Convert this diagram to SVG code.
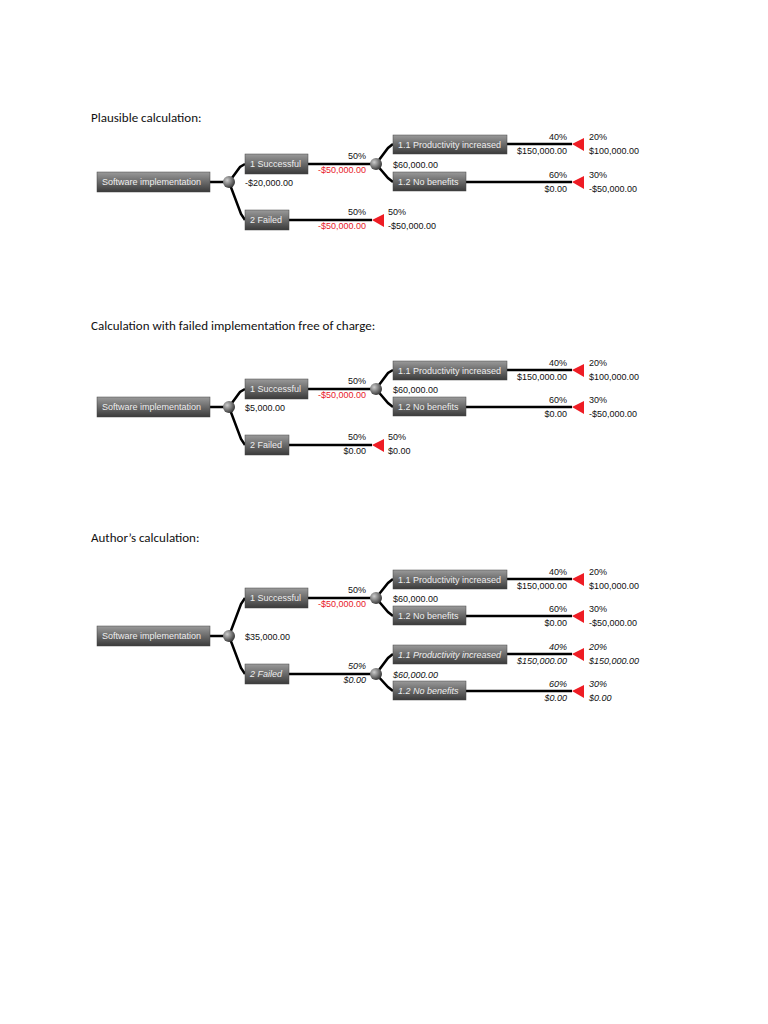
<svg xmlns="http://www.w3.org/2000/svg" width="768" height="1024" viewBox="0 0 768 1024">
<style>
.t{font-family:"Liberation Sans",Arial,sans-serif;font-size:9px;fill:#111}
.r{fill:#e8202a}
.e{text-anchor:end}
.i{font-style:italic}
.h{font-family:Calibri,"Carlito","Liberation Sans",sans-serif;font-size:13px;fill:#111}
.bx{fill:url(#g);stroke:#444;stroke-width:0.5}
.bt{font-family:"Liberation Sans",Arial,sans-serif;font-size:9px;fill:#eee}
.ln{fill:none;stroke:#000;stroke-width:2.5}
.tri{fill:#ee1c24}
.cn{fill:url(#rg)}
</style>
<defs>
<linearGradient id="g" x1="0" y1="0" x2="0" y2="1"><stop offset="0" stop-color="#9a9a9a"/><stop offset="0.5" stop-color="#6a6a6a"/><stop offset="1" stop-color="#3a3a3a"/></linearGradient>
<radialGradient id="rg" cx="0.35" cy="0.35" r="0.7"><stop offset="0" stop-color="#ccc"/><stop offset="1" stop-color="#333"/></radialGradient>
</defs>
<rect width="768" height="1024" fill="#fff"/>
<text class="h" x="91" y="122">Plausible calculation:</text>
<text class="h" x="91" y="330">Calculation with failed implementation free of charge:</text>
<text class="h" x="91" y="542">Author’s calculation:</text>

<g id="connectors">
<!-- tree 1 -->
<path class="ln" d="M210 182H229M229 182L240 167L245 164M229 182L241 214L245 220M308 164H376M376 164L388 148L393 144M376 164L388 178L393 182M507 144H572M466 182H572M289 220H372"/>
<!-- tree 2 -->
<path class="ln" d="M210 407H229M229 407L240 392L245 389M229 407L241 439L245 445M308 389H376M376 389L388 373L393 370M376 389L388 403L393 407M507 370H572M466 407H572M289 445H372"/>
<!-- tree 3 -->
<path class="ln" d="M210 636H229M229 636L241 604L245 598M229 636L241 668L245 674M308 598H376M376 598L388 583L393 579M376 598L388 612L393 616M507 579H572M466 616H572M289 674H376M376 674L388 658L393 654M376 674L388 687L393 691M507 654H572M466 691H572"/>
<g>
<polygon class="tri" points="584,138 572,144 584,151"/><polygon class="tri" points="584,176 572,182 584,189"/><polygon class="tri" points="384,214 372,220 384,227"/>
<polygon class="tri" points="584,364 572,370 584,377"/><polygon class="tri" points="584,401 572,407 584,414"/><polygon class="tri" points="384,439 372,445 384,452"/>
<polygon class="tri" points="584,573 572,579 584,586"/><polygon class="tri" points="584,610 572,616 584,623"/><polygon class="tri" points="584,648 572,654 584,661"/><polygon class="tri" points="584,685 572,691 584,698"/>
</g>
</g>

<g id="tree1">
<g id="t1-root"><rect class="bx" x="97" y="172" width="113" height="20"/><text class="bt" x="102" y="185">Software implementation</text><circle class="cn" cx="229" cy="182" r="6"/><text class="t" x="245" y="186">-$20,000.00</text></g>
<g id="t1-succ"><rect class="bx" x="245" y="154" width="63" height="20"/><text class="bt" x="250" y="167">1  Successful</text><text class="t e" x="366" y="159">50%</text><text class="t r e" x="366" y="173">-$50,000.00</text><circle class="cn" cx="376" cy="164" r="6"/><text class="t" x="393" y="168">$60,000.00</text></g>
<g id="t1-p"><rect class="bx" x="393" y="135" width="114" height="19"/><text class="bt" x="398" y="148">1.1  Productivity increased</text><text class="t e" x="567" y="140">40%</text><text class="t e" x="567" y="154">$150,000.00</text><text class="t" x="589" y="140">20%</text><text class="t" x="589" y="154">$100,000.00</text></g>
<g id="t1-n"><rect class="bx" x="393" y="172" width="73" height="19"/><text class="bt" x="398" y="185">1.2  No benefits</text><text class="t e" x="567" y="178">60%</text><text class="t e" x="567" y="192">$0.00</text><text class="t" x="589" y="178">30%</text><text class="t" x="589" y="192">-$50,000.00</text></g>
<g id="t1-fail"><rect class="bx" x="245" y="210" width="44" height="20"/><text class="bt" x="250" y="223">2  Failed</text><text class="t e" x="366" y="215">50%</text><text class="t r e" x="366" y="229">-$50,000.00</text><text class="t" x="388" y="215">50%</text><text class="t" x="388" y="229">-$50,000.00</text></g>
</g>

<g id="tree2">
<g id="t2-root"><rect class="bx" x="97" y="397" width="113" height="20"/><text class="bt" x="102" y="410">Software implementation</text><circle class="cn" cx="229" cy="407" r="6"/><text class="t" x="245" y="411">$5,000.00</text></g>
<g id="t2-succ"><rect class="bx" x="245" y="379" width="63" height="20"/><text class="bt" x="250" y="392">1  Successful</text><text class="t e" x="366" y="384">50%</text><text class="t r e" x="366" y="398">-$50,000.00</text><circle class="cn" cx="376" cy="389" r="6"/><text class="t" x="393" y="393">$60,000.00</text></g>
<g id="t2-p"><rect class="bx" x="393" y="361" width="114" height="19"/><text class="bt" x="398" y="374">1.1  Productivity increased</text><text class="t e" x="567" y="366">40%</text><text class="t e" x="567" y="380">$150,000.00</text><text class="t" x="589" y="366">20%</text><text class="t" x="589" y="380">$100,000.00</text></g>
<g id="t2-n"><rect class="bx" x="393" y="397" width="73" height="19"/><text class="bt" x="398" y="410">1.2  No benefits</text><text class="t e" x="567" y="403">60%</text><text class="t e" x="567" y="417">$0.00</text><text class="t" x="589" y="403">30%</text><text class="t" x="589" y="417">-$50,000.00</text></g>
<g id="t2-fail"><rect class="bx" x="245" y="435" width="44" height="20"/><text class="bt" x="250" y="448">2  Failed</text><text class="t e" x="366" y="440">50%</text><text class="t e" x="366" y="454">$0.00</text><text class="t" x="388" y="440">50%</text><text class="t" x="388" y="454">$0.00</text></g>
</g>

<g id="tree3">
<g id="t3-root"><rect class="bx" x="97" y="626" width="113" height="20"/><text class="bt" x="102" y="639">Software implementation</text><circle class="cn" cx="229" cy="636" r="6"/><text class="t" x="245" y="640">$35,000.00</text></g>
<g id="t3-succ"><rect class="bx" x="245" y="588" width="63" height="20"/><text class="bt" x="250" y="601">1  Successful</text><text class="t e" x="366" y="593">50%</text><text class="t r e" x="366" y="607">-$50,000.00</text><circle class="cn" cx="376" cy="598" r="6"/><text class="t" x="393" y="602">$60,000.00</text></g>
<g id="t3-p"><rect class="bx" x="393" y="570" width="114" height="19"/><text class="bt" x="398" y="583">1.1  Productivity increased</text><text class="t e" x="567" y="575">40%</text><text class="t e" x="567" y="589">$150,000.00</text><text class="t" x="589" y="575">20%</text><text class="t" x="589" y="589">$100,000.00</text></g>
<g id="t3-n"><rect class="bx" x="393" y="606" width="73" height="19"/><text class="bt" x="398" y="619">1.2  No benefits</text><text class="t e" x="567" y="612">60%</text><text class="t e" x="567" y="626">$0.00</text><text class="t" x="589" y="612">30%</text><text class="t" x="589" y="626">-$50,000.00</text></g>
<g id="t3-fail"><rect class="bx" x="245" y="664" width="44" height="20"/><text class="bt i" x="250" y="677">2  Failed</text><text class="t e i" x="366" y="669">50%</text><text class="t e i" x="366" y="683">$0.00</text><circle class="cn" cx="376" cy="674" r="6"/><text class="t i" x="393" y="678">$60,000.00</text></g>
<g id="t3-fp"><rect class="bx" x="393" y="645" width="114" height="19"/><text class="bt i" x="398" y="658">1.1  Productivity increased</text><text class="t e i" x="567" y="650">40%</text><text class="t e i" x="567" y="664">$150,000.00</text><text class="t i" x="589" y="650">20%</text><text class="t i" x="589" y="664">$150,000.00</text></g>
<g id="t3-fn"><rect class="bx" x="393" y="681" width="73" height="19"/><text class="bt i" x="398" y="694">1.2  No benefits</text><text class="t e i" x="567" y="687">60%</text><text class="t e i" x="567" y="701">$0.00</text><text class="t i" x="589" y="687">30%</text><text class="t i" x="589" y="701">$0.00</text></g>
</g>
</svg>
